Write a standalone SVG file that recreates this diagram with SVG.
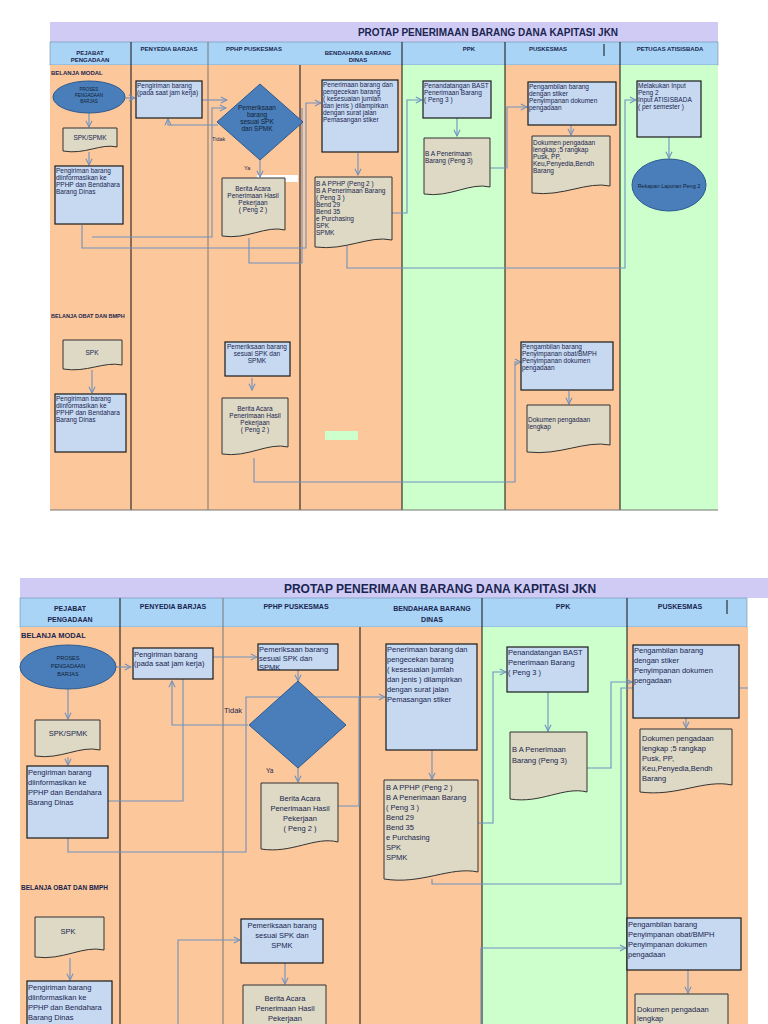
<svg xmlns="http://www.w3.org/2000/svg" width="768" height="1024" viewBox="0 0 768 1024">
<style>
text{font-family:"Liberation Sans",Arial,sans-serif;fill:#1a2550}
.t{font-size:6.5px}.b{font-size:7.5px}
.h{font-size:7px;font-weight:bold;text-anchor:middle}
.hb{font-size:8px;font-weight:bold;text-anchor:middle}
.c{text-anchor:middle}
.box{fill:#c6d9f1;stroke:#1a1a1a;stroke-width:1.2}
.doc{fill:#ddd9c4;stroke:#333;stroke-width:1}
.ell{fill:#4a7ebb;stroke:#2c5a8f;stroke-width:1}
.dia{fill:#4a7ebb;stroke:#2c5a8f;stroke-width:1}
.cn{fill:none;stroke:#6f91c0;stroke-width:1.1}
.or{fill:#fcc89b}.gr{fill:#ccffcc}.hd{fill:#a9d4f5;stroke:#6a8fb0;stroke-width:0.6}
.tb{fill:#cfcbf5}.ln{stroke:#111;stroke-width:1}.lg{stroke:#777;stroke-width:1}
</style>
<defs><marker id="a" viewBox="0 0 10 10" refX="9" refY="5" markerWidth="7" markerHeight="7" orient="auto"><path d="M1,1L9,5L1,9" fill="none" stroke="#6f91c0" stroke-width="1.4"/></marker></defs>
<rect width="768" height="1024" fill="#fff"/>

<!-- PAGE 1 -->
<g id="page1-lanes">
<rect class="tb" x="50" y="22" width="668" height="20"/>
<text x="488" y="36" class="hb" style="font-size:10px">PROTAP PENERIMAAN BARANG DANA KAPITASI JKN</text>
<rect class="hd" x="50" y="42" width="668" height="23"/>
<rect class="or" x="50" y="65" width="352" height="445"/>
<rect class="gr" x="402" y="65" width="103" height="445"/>
<rect class="or" x="505" y="65" width="115" height="445"/>
<rect class="gr" x="620" y="65" width="98" height="445"/>
<line class="ln" x1="131" y1="42" x2="131" y2="510"/><line class="lg" x1="208" y1="42" x2="208" y2="510"/>
<line class="ln" x1="300" y1="65" x2="300" y2="510"/><line class="ln" x1="402" y1="42" x2="402" y2="510"/>
<line class="ln" x1="505" y1="42" x2="505" y2="510"/><line class="ln" x1="620" y1="42" x2="620" y2="510"/>
<line class="ln" x1="604" y1="44" x2="604" y2="56"/>
<line class="lg" x1="50" y1="510" x2="718" y2="510"/>
<text class="h" style="font-size:6px" x="90" y="55">PEJABAT</text><text class="h" style="font-size:6px" x="90" y="62">PENGADAAN</text>
<text class="h" style="font-size:6px" x="169" y="51">PENYEDIA BARJAS</text>
<text class="h" style="font-size:6px" x="254" y="51">PPHP PUSKESMAS</text>
<text class="h" style="font-size:6px" x="358" y="55">BENDAHARA BARANG</text><text class="h" style="font-size:6px" x="358" y="62">DINAS</text>
<text class="h" style="font-size:6px" x="469" y="51">PPK</text>
<text class="h" style="font-size:6px" x="548" y="51">PUSKESMAS</text>
<text class="h" style="font-size:6px" x="670" y="51">PETUGAS ATISISBADA</text>
<text x="51" y="75" style="font-size:6px;font-weight:bold">BELANJA MODAL</text>
<text x="51" y="318" style="font-size:5.5px;font-weight:bold">BELANJA OBAT DAN BMPH</text>
<rect x="325" y="431" width="33" height="9" fill="#ccffcc"/>
<rect x="257" y="175" width="41" height="7" fill="#fff"/>
<text x="212" y="141" class="t" style="font-size:5.5px">Tidak</text>
<text x="244" y="170" class="t" style="font-size:5.5px">Ya</text>
</g>
<g id="p1-connectors">
<path class="cn" d="M125,98H135" marker-end="url(#a)"/>
<path class="cn" d="M89,113V127" marker-end="url(#a)"/>
<path class="cn" d="M89,152V165" marker-end="url(#a)"/>
<path class="cn" d="M202,100H227" marker-end="url(#a)"/>
<path class="cn" d="M218,125H168V119" marker-end="url(#a)"/>
<path class="cn" d="M92,237H212V108H226" marker-end="url(#a)"/>
<path class="cn" d="M82,225V248H306V103H321" marker-end="url(#a)"/>
<path class="cn" d="M260,160V177" marker-end="url(#a)"/>
<path class="cn" d="M249,238V263H302V108"/>
<path class="cn" d="M358,153V175" marker-end="url(#a)"/>
<path class="cn" d="M347,246V268H625V100H636" marker-end="url(#a)"/>
<path class="cn" d="M392,213H407V100H422" marker-end="url(#a)"/>
<path class="cn" d="M490,168H507V107H527" marker-end="url(#a)"/>
<path class="cn" d="M457,118V136" marker-end="url(#a)"/>
<path class="cn" d="M571,125V135" marker-end="url(#a)"/>
<path class="cn" d="M669,137V158" marker-end="url(#a)"/>
<path class="cn" d="M92,370V393" marker-end="url(#a)"/>
<path class="cn" d="M252,378V390" marker-end="url(#a)"/>
<path class="cn" d="M254,458V482H515V362H521" marker-end="url(#a)"/>
<path class="cn" d="M569,391V404" marker-end="url(#a)"/>
</g>
<g id="p1-proses"><ellipse class="ell" cx="89" cy="97" rx="36" ry="16"/><text class="c" x="89" y="91" style="font-size:4.5px;fill:#123">PROSES</text><text class="c" x="89" y="97" style="font-size:4.5px;fill:#123">PENGADAAN</text><text class="c" x="89" y="103" style="font-size:4.5px;fill:#123">BARJAS</text></g>
<g id="p1-spk"><path class="doc" d="M63,128H117V147C101,143 85,155 63,151Z"/><text class="t c" x="90" y="140">SPK/SPMK</text></g>
<g id="p1-info"><rect class="box" x="55" y="166" width="68" height="58"/><text class="t" x="56" y="173">Pengiriman barang</text><text class="t" x="56" y="180">diinformasikan ke</text><text class="t" x="56" y="187">PPHP dan Bendahara</text><text class="t" x="56" y="194">Barang Dinas</text></g>
<g id="p1-kirim"><rect class="box" x="136" y="81" width="66" height="37"/><text class="t" x="137" y="88">Pengiriman barang</text><text class="t" x="137" y="95">(pada saat jam kerja)</text></g>
<g id="p1-periksa"><path class="dia" d="M260,84L303,122L260,160L217,122Z"/><text class="t c" x="257" y="110" style="fill:#123">Pemeriksaan</text><text class="t c" x="257" y="117" style="fill:#123">barang</text><text class="t c" x="257" y="124" style="fill:#123">sesuai SPK</text><text class="t c" x="257" y="131" style="fill:#123">dan SPMK</text></g>
<g id="p1-berita"><path class="doc" d="M222,178H285V230C266,225 247,240 222,236Z"/><text class="t c" x="253" y="191">Berita Acara</text><text class="t c" x="253" y="198">Penerimaan Hasil</text><text class="t c" x="253" y="205">Pekerjaan</text><text class="t c" x="253" y="212">( Peng 2 )</text></g>
<g id="p1-terima"><rect class="box" x="322" y="80" width="76" height="72"/><text class="t" x="323" y="87">Penerimaan barang dan</text><text class="t" x="323" y="94">pengecekan barang</text><text class="t" x="323" y="101">( kesesuaian jumlah</text><text class="t" x="323" y="108">dan jenis ) dilampirkan</text><text class="t" x="323" y="115">dengan surat jalan</text><text class="t" x="323" y="122">Pemasangan stiker</text></g>
<g id="p1-ba"><path class="doc" d="M315,177H392V240C369,235 346,251 315,247Z"/><text class="t" x="316" y="186">B A PPHP (Peng 2 )</text><text class="t" x="316" y="193">B A Penerimaan Barang</text><text class="t" x="316" y="200">( Peng 3 )</text><text class="t" x="316" y="207">Bend 29</text><text class="t" x="316" y="214">Bend 35</text><text class="t" x="316" y="221">e Purchasing</text><text class="t" x="316" y="228">SPK</text><text class="t" x="316" y="235">SPMK</text></g>
<g id="p1-bast"><rect class="box" x="423" y="81" width="68" height="37"/><text class="t" x="424" y="88">Penandatangan BAST</text><text class="t" x="424" y="95">Penerimaan Barang</text><text class="t" x="424" y="102">( Peng 3 )</text></g>
<g id="p1-ba3"><path class="doc" d="M424,138H490V187C470,182 450,198 424,194Z"/><text class="t" x="425" y="156">B A Penerimaan</text><text class="t" x="425" y="163">Barang (Peng 3)</text></g>
<g id="p1-ambil"><rect class="box" x="528" y="82" width="88" height="43"/><text class="t" x="529" y="89">Pengambilan barang</text><text class="t" x="529" y="96">dengan stiker</text><text class="t" x="529" y="103">Penyimpanan dokumen</text><text class="t" x="529" y="110">pengadaan</text></g>
<g id="p1-dok"><path class="doc" d="M532,136H610V186C587,181 563,197 532,193Z"/><text class="t" x="533" y="145">Dokumen pengadaan</text><text class="t" x="533" y="152">lengkap ;5 rangkap</text><text class="t" x="533" y="159">Pusk, PP,</text><text class="t" x="533" y="166">Keu,Penyedia,Bendh</text><text class="t" x="533" y="173">Barang</text></g>
<g id="p1-input"><rect class="box" x="637" y="81" width="64" height="56"/><text class="t" x="638" y="88">Melakukan Input</text><text class="t" x="638" y="95">Peng 2</text><text class="t" x="638" y="102">Input ATISISBADA</text><text class="t" x="638" y="109">( per semester )</text></g>
<g id="p1-rekap"><ellipse class="ell" cx="669" cy="185" rx="37" ry="26"/><text class="c" x="669" y="188" style="font-size:5.5px;fill:#123">Rekapan  Laporan Peng 2</text></g>
<g id="p1-spk2"><path class="doc" d="M63,340H122V365C104,361 87,373 63,369Z"/><text class="t c" x="92" y="355">SPK</text></g>
<g id="p1-info2"><rect class="box" x="55" y="394" width="71" height="58"/><text class="t" x="56" y="401">Pengiriman barang</text><text class="t" x="56" y="408">diinformasikan ke</text><text class="t" x="56" y="415">PPHP dan Bendahara</text><text class="t" x="56" y="422">Barang Dinas</text></g>
<g id="p1-periksa2"><rect class="box" x="225" y="342" width="65" height="34"/><text class="t c" x="257" y="349">Pemeriksaan barang</text><text class="t c" x="257" y="356">sesuai SPK dan</text><text class="t c" x="257" y="363">SPMK</text></g>
<g id="p1-berita2"><path class="doc" d="M222,398H288V447C268,442 248,458 222,454Z"/><text class="t c" x="255" y="411">Berita Acara</text><text class="t c" x="255" y="418">Penerimaan Hasil</text><text class="t c" x="255" y="425">Pekerjaan</text><text class="t c" x="255" y="432">( Peng 2 )</text></g>
<g id="p1-ambil2"><rect class="box" x="521" y="342" width="92" height="48"/><text class="t" x="522" y="349">Pengambilan barang</text><text class="t" x="522" y="356">Penyimpanan obat/BMPH</text><text class="t" x="522" y="363">Penyimpanan dokumen</text><text class="t" x="522" y="370">pengadaan</text></g>
<g id="p1-dok2"><path class="doc" d="M527,405H610V445C585,440 560,456 527,452Z"/><text class="t" x="528" y="422">Dokumen pengadaan</text><text class="t" x="528" y="429">lengkap</text></g>

<!-- PAGE 2 -->
<g id="page2-lanes">
<rect class="tb" x="20" y="578" width="748" height="20"/>
<text x="440" y="593" class="hb" style="font-size:12px">PROTAP PENERIMAAN BARANG DANA KAPITASI JKN</text>
<rect class="hd" x="20" y="598" width="727" height="29"/>
<rect class="or" x="20" y="627" width="462" height="397"/>
<rect class="gr" x="482" y="627" width="145" height="397"/>
<rect class="or" x="627" y="627" width="121" height="397"/>
<line class="ln" x1="120" y1="598" x2="120" y2="1024"/><line class="lg" x1="223" y1="598" x2="223" y2="1024"/>
<line class="ln" x1="360" y1="627" x2="360" y2="1024"/><line class="ln" x1="482" y1="598" x2="482" y2="1024"/>
<line class="ln" x1="627" y1="598" x2="627" y2="1024"/><line class="ln" x1="727" y1="600" x2="727" y2="614"/>
<text class="h" x="70" y="611">PEJABAT</text><text class="h" x="70" y="622">PENGADAAN</text>
<text class="h" x="173" y="609">PENYEDIA BARJAS</text>
<text class="h" x="296" y="609">PPHP PUSKESMAS</text>
<text class="h" x="432" y="611">BENDAHARA BARANG</text><text class="h" x="432" y="622">DINAS</text>
<text class="h" x="563" y="609">PPK</text>
<text class="h" x="680" y="609">PUSKESMAS</text>
<text x="21" y="638" style="font-size:7.5px;font-weight:bold">BELANJA MODAL</text>
<text x="21" y="890" style="font-size:6.5px;font-weight:bold">BELANJA OBAT DAN BMPH</text>
<text x="224" y="713" class="b">Tidak</text>
<text x="266" y="773" class="b" style="font-size:6.5px">Ya</text>
</g>
<g id="p2-connectors">
<path class="cn" d="M116,667H131" marker-end="url(#a)"/>
<path class="cn" d="M68,689V719" marker-end="url(#a)"/>
<path class="cn" d="M68,757V765" marker-end="url(#a)"/>
<path class="cn" d="M213,657H257" marker-end="url(#a)"/>
<path class="cn" d="M108,801H183V659"/>
<path class="cn" d="M248,725H172V681" marker-end="url(#a)"/>
<path class="cn" d="M68,838V852H246V697H385" marker-end="url(#a)"/>
<path class="cn" d="M298,670V681" marker-end="url(#a)"/>
<path class="cn" d="M298,768V782" marker-end="url(#a)"/>
<path class="cn" d="M338,806H359V697"/>
<path class="cn" d="M432,750V779" marker-end="url(#a)"/>
<path class="cn" d="M478,823H493V672H506" marker-end="url(#a)"/>
<path class="cn" d="M548,692V731" marker-end="url(#a)"/>
<path class="cn" d="M587,768H611V682H632" marker-end="url(#a)"/>
<path class="cn" d="M432,879V884H621V688H748"/>
<path class="cn" d="M686,718V728" marker-end="url(#a)"/>
<path class="cn" d="M70,958V980" marker-end="url(#a)"/>
<path class="cn" d="M178,1024V940H240" marker-end="url(#a)"/>
<path class="cn" d="M285,963V984" marker-end="url(#a)"/>
<path class="cn" d="M481,1024V948H626" marker-end="url(#a)"/>
<path class="cn" d="M688,970V993" marker-end="url(#a)"/>
</g>
<g id="p2-proses"><ellipse class="ell" cx="68" cy="667" rx="48" ry="22"/><text class="c" x="68" y="660" style="font-size:5.5px;fill:#123">PROSES</text><text class="c" x="68" y="668" style="font-size:5.5px;fill:#123">PENGADAAN</text><text class="c" x="68" y="676" style="font-size:5.5px;fill:#123">BARJAS</text></g>
<g id="p2-spk"><path class="doc" d="M35,720H100V750C80,745 61,760 35,756Z"/><text class="b c" x="68" y="736">SPK/SPMK</text></g>
<g id="p2-info"><rect class="box" x="27" y="766" width="81" height="72"/><text class="b" x="28" y="775">Pengiriman barang</text><text class="b" x="28" y="785">diinformasikan ke</text><text class="b" x="28" y="795">PPHP dan Bendahara</text><text class="b" x="28" y="805">Barang Dinas</text></g>
<g id="p2-kirim"><rect class="box" x="133" y="648" width="80" height="31"/><text class="b" x="134" y="657">Pengiriman barang</text><text class="b" x="134" y="666">(pada saat jam kerja)</text></g>
<g id="p2-periksa"><rect class="box" x="258" y="644" width="80" height="26"/><text class="b" x="259" y="652">Pemeriksaan barang</text><text class="b" x="259" y="661">sesuai SPK dan</text><text class="b" x="259" y="670">SPMK</text></g>
<g id="p2-dia"><path class="dia" d="M298,681L346,725L298,768L249,725Z"/></g>
<g id="p2-berita"><path class="doc" d="M261,783H338V842C315,836 292,854 261,849Z"/><text class="b c" x="300" y="801">Berita Acara</text><text class="b c" x="300" y="811">Penerimaan Hasil</text><text class="b c" x="300" y="821">Pekerjaan</text><text class="b c" x="300" y="831">( Peng 2 )</text></g>
<g id="p2-terima"><rect class="box" x="386" y="644" width="91" height="106"/><text class="b" x="387" y="652">Penerimaan barang dan</text><text class="b" x="387" y="662">pengecekan barang</text><text class="b" x="387" y="672">( kesesuaian jumlah</text><text class="b" x="387" y="682">dan jenis ) dilampirkan</text><text class="b" x="387" y="692">dengan surat jalan</text><text class="b" x="387" y="702">Pemasangan stiker</text></g>
<g id="p2-ba"><path class="doc" d="M384,780H478V872C450,866 422,885 384,879Z"/><text class="b" x="386" y="790">B A PPHP (Peng 2 )</text><text class="b" x="386" y="800">B A Penerimaan Barang</text><text class="b" x="386" y="810">( Peng 3 )</text><text class="b" x="386" y="820">Bend 29</text><text class="b" x="386" y="830">Bend 35</text><text class="b" x="386" y="840">e Purchasing</text><text class="b" x="386" y="850">SPK</text><text class="b" x="386" y="860">SPMK</text></g>
<g id="p2-bast"><rect class="box" x="507" y="647" width="81" height="45"/><text class="b" x="508" y="655">Penandatangan BAST</text><text class="b" x="508" y="665">Penerimaan Barang</text><text class="b" x="508" y="675">( Peng 3 )</text></g>
<g id="p2-ba3"><path class="doc" d="M510,732H587V792C564,786 541,804 510,799Z"/><text class="b" x="512" y="752">B A Penerimaan</text><text class="b" x="512" y="763">Barang (Peng 3)</text></g>
<g id="p2-ambil"><rect class="box" x="633" y="645" width="106" height="73"/><text class="b" x="634" y="653">Pengambilan barang</text><text class="b" x="634" y="663">dengan stiker</text><text class="b" x="634" y="673">Penyimpanan dokumen</text><text class="b" x="634" y="683">pengadaan</text></g>
<g id="p2-dok"><path class="doc" d="M640,729H732V785C704,779 677,797 640,792Z"/><text class="b" x="642" y="741">Dokumen pengadaan</text><text class="b" x="642" y="751">lengkap ;5 rangkap</text><text class="b" x="642" y="761">Pusk, PP,</text><text class="b" x="642" y="771">Keu,Penyedia,Bendh</text><text class="b" x="642" y="781">Barang</text></g>
<g id="p2-spk2"><path class="doc" d="M35,917H104V950C83,945 63,961 35,957Z"/><text class="b c" x="68" y="934">SPK</text></g>
<g id="p2-info2"><rect class="box" x="27" y="981" width="85" height="60"/><text class="b" x="28" y="990">Pengiriman barang</text><text class="b" x="28" y="1000">diinformasikan ke</text><text class="b" x="28" y="1010">PPHP dan Bendahara</text><text class="b" x="28" y="1020">Barang Dinas</text></g>
<g id="p2-periksa2"><rect class="box" x="241" y="919" width="82" height="44"/><text class="b c" x="282" y="928">Pemeriksaan barang</text><text class="b c" x="282" y="938">sesuai SPK dan</text><text class="b c" x="282" y="948">SPMK</text></g>
<g id="p2-berita2"><path class="doc" d="M243,985H326V1040H243Z"/><text class="b c" x="285" y="1001">Berita Acara</text><text class="b c" x="285" y="1011">Penerimaan Hasil</text><text class="b c" x="285" y="1021">Pekerjaan</text></g>
<g id="p2-ambil2"><rect class="box" x="627" y="918" width="114" height="52"/><text class="b" x="628" y="927">Pengambilan barang</text><text class="b" x="628" y="937">Penyimpanan obat/BMPH</text><text class="b" x="628" y="947">Penyimpanan dokumen</text><text class="b" x="628" y="957">pengadaan</text></g>
<g id="p2-dok2"><path class="doc" d="M635,994H728V1040H635Z"/><text class="b" x="637" y="1012">Dokumen pengadaan</text><text class="b" x="637" y="1021">lengkap</text></g>
</svg>
